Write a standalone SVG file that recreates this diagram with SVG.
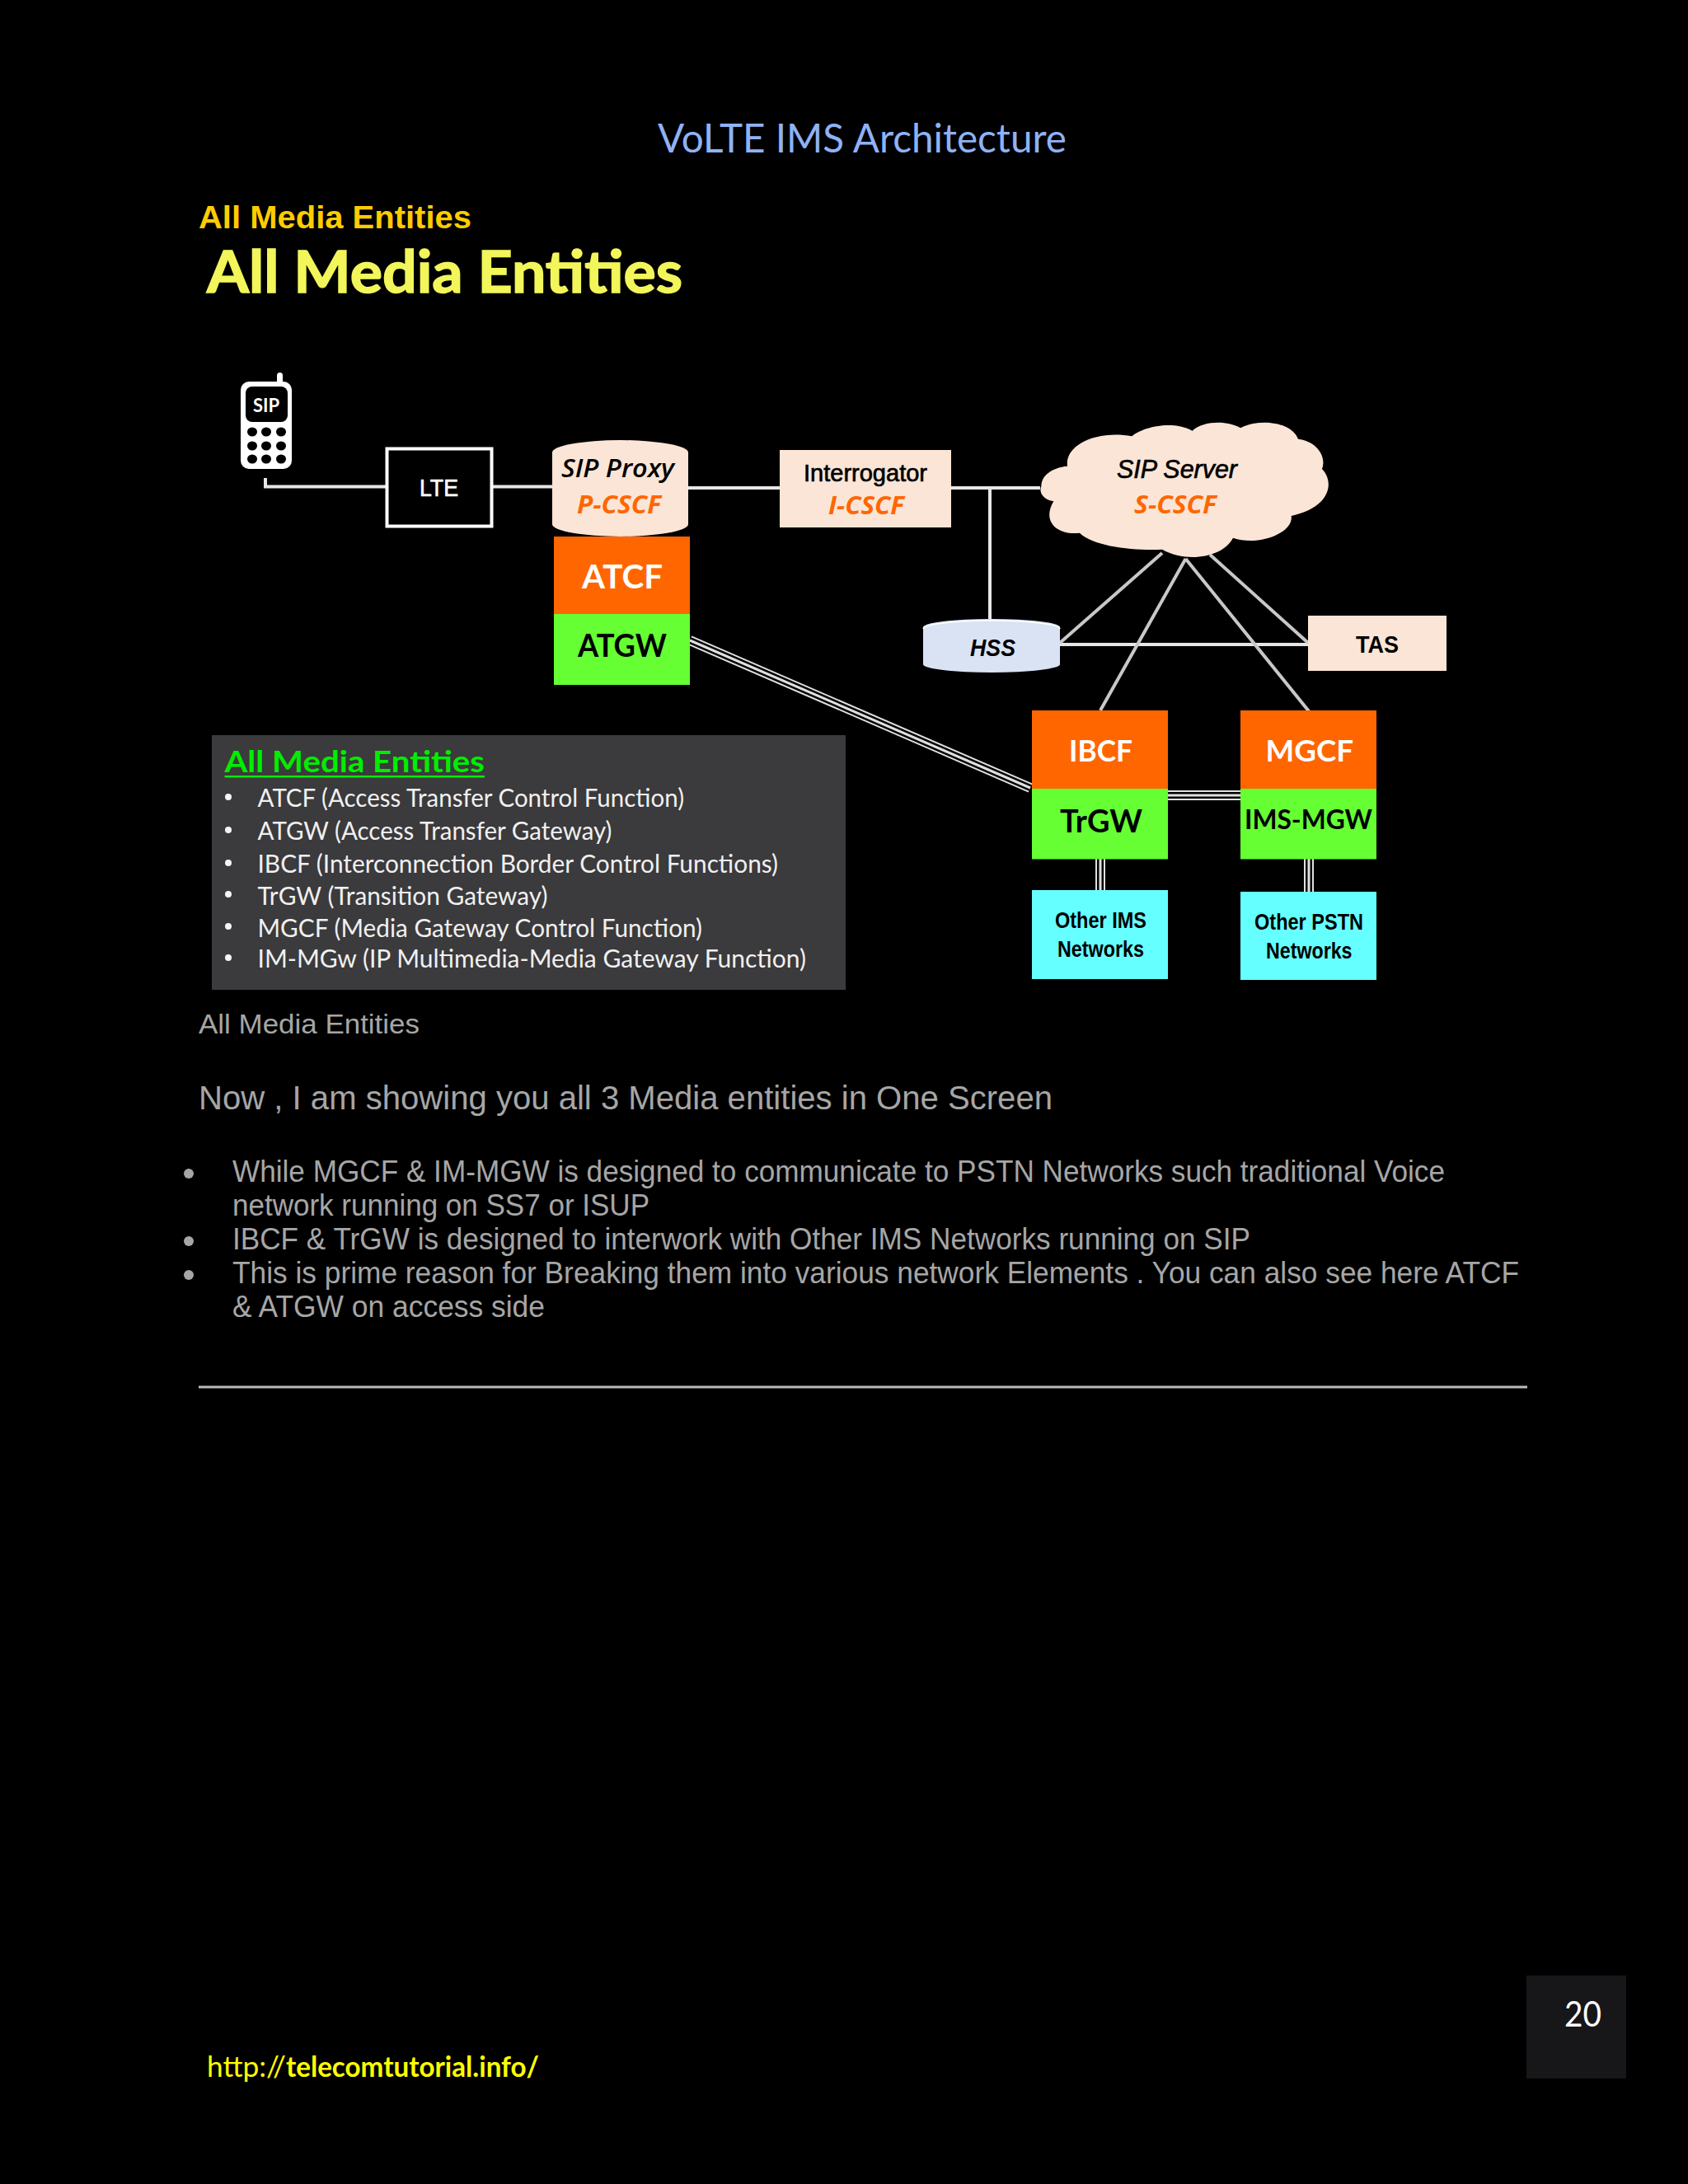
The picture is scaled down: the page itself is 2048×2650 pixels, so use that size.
<svg xmlns="http://www.w3.org/2000/svg" width="2048" height="2650" viewBox="0 0 2048 2650">
<style>
text{font-family:"Liberation Sans",Arial,sans-serif;white-space:pre}
.lato{font-family:Lato,"Open Sans",sans-serif}
.noto{font-family:"Open Sans","Noto Sans",sans-serif}
.b{font-weight:700}
.i{font-style:italic}
.thick{stroke:#000;stroke-width:.7px}
.thickw{stroke:#fff;stroke-width:.7px}
.body{font-size:36px;fill:#a6a6a6}
.lst{font-family:Lato,sans-serif;font-size:30px;fill:#f0f0f0}
.org{fill:#ff6600}.grn{fill:#66ff33}.cyn{fill:#66ffff}.pch{fill:#fbe5d6}
.w{fill:#fff}.k{fill:#000}
.conn{stroke:#e6e6e6;stroke-width:4;fill:none}
.diag{stroke:#c8c8c8;stroke-width:4;fill:none}
.t1{stroke:#e0e0e0;stroke-width:12;fill:none}
.t2{stroke:#000;stroke-width:8;fill:none}
.t3{stroke:#e0e0e0;stroke-width:3;fill:none}
</style>
<rect width="2048" height="2650" fill="#000"/>
<g id="heading">
<text x="798" y="185" class="lato" font-size="48" fill="#8fb2f5" textLength="496" lengthAdjust="spacingAndGlyphs">VoLTE IMS Architecture</text>
<text x="241" y="277" class="b" font-size="38" fill="#ffcc00" textLength="331" lengthAdjust="spacingAndGlyphs">All Media Entities</text>
<text x="251" y="355" class="lato b" font-size="70" fill="#f2f65a" stroke="#f2f65a" stroke-width="1.500" textLength="577" lengthAdjust="spacingAndGlyphs">All Media Entities</text>
</g>
<g id="connectors">
<path class="conn" d="M322,580V590.500H468M598,590.500H670M835,592H946M1154,592H1262M1201,592V751M1286,782H1587"/>
<path class="diag" d="M1410,671L1286,780M1468,673L1587,780M1438.500,678L1335,862M1438.500,678L1588,863"/>
<path class="t1" d="M837,777L1250,956M1417,965H1505M1335,1042V1080M1588,1042V1082"/>
<path class="t2" d="M837,777L1250,956M1417,965H1505M1335,1042V1080M1588,1042V1082"/>
<path class="t3" d="M837,777L1250,956M1417,965H1505M1335,1042V1080M1588,1042V1082"/>
</g>
<g id="phone">
<rect x="336" y="452" width="7" height="20" rx="3.500" class="w"/>
<rect x="292" y="463" width="62" height="106" rx="10" class="w"/>
<rect x="298" y="469" width="51" height="43" rx="8" class="k"/>
<text x="323" y="500" text-anchor="middle" class="lato b w" font-size="22">SIP</text>
<g class="k">
<ellipse cx="306" cy="524" rx="6" ry="5.500"/><ellipse cx="323" cy="524" rx="6" ry="5.500"/><ellipse cx="341" cy="524" rx="6" ry="5.500"/>
<ellipse cx="306" cy="541" rx="6" ry="5.500"/><ellipse cx="323" cy="541" rx="6" ry="5.500"/><ellipse cx="341" cy="541" rx="6" ry="5.500"/>
<ellipse cx="306" cy="557" rx="6" ry="5.500"/><ellipse cx="323" cy="557" rx="6" ry="5.500"/><ellipse cx="341" cy="557" rx="6" ry="5.500"/>
</g>
</g>
<g id="lte">
<rect x="469.500" y="544.500" width="127" height="94" fill="#000" stroke="#fff" stroke-width="4"/>
<text x="509" y="602" class="w thickw" font-size="30" textLength="47" lengthAdjust="spacingAndGlyphs">LTE</text>
</g>
<g id="p-cscf">
<path class="pch" d="M670,549A82.500,15 0 0 1 835,549V636A82.500,15 0 0 1 670,636Z"/>
<text x="681" y="579" class="noto i" font-weight="600" font-size="30" textLength="137" lengthAdjust="spacingAndGlyphs">SIP Proxy</text>
<text x="700" y="623" class="noto b i org" font-size="30" textLength="102" lengthAdjust="spacingAndGlyphs">P-CSCF</text>
</g>
<g id="atcf">
<rect x="672" y="651" width="165" height="94" class="org"/>
<text x="706" y="714" class="lato b w" font-size="41" textLength="98" lengthAdjust="spacingAndGlyphs">ATCF</text>
</g>
<g id="atgw">
<rect x="672" y="745" width="165" height="86" class="grn"/>
<text x="701" y="797" class="lato b" font-size="38" textLength="108" lengthAdjust="spacingAndGlyphs">ATGW</text>
</g>
<g id="i-cscf">
<rect x="946" y="546" width="208" height="94" class="pch"/>
<text x="975" y="584" class="thick" font-size="30" textLength="150" lengthAdjust="spacingAndGlyphs">Interrogator</text>
<text x="1005" y="624" class="noto b i org" font-size="30" textLength="92" lengthAdjust="spacingAndGlyphs">I-CSCF</text>
</g>
<g id="s-cscf">
<path class="pch" transform="translate(1250,500) scale(.33333)" d="M40,270C40,225 90,200 135,197C125,120 240,65 370,88C400,60 510,25 590,68C630,30 720,30 765,58C820,25 950,30 975,98C1040,105 1080,160 1062,207C1105,250 1100,345 950,378C960,440 830,490 738,458C700,530 570,550 480,500C380,505 230,490 180,440C100,450 40,400 85,325C50,320 30,295 40,270Z"/>
<text x="1355" y="580" class="thick" font-style="italic" font-size="32" textLength="146" lengthAdjust="spacingAndGlyphs">SIP Server</text>
<text x="1376" y="623" class="noto b i org" font-size="30" textLength="100" lengthAdjust="spacingAndGlyphs">S-CSCF</text>
</g>
<g id="hss">
<path fill="#dae3f3" d="M1120,761A83,10 0 0 1 1286,761V806A83,10 0 0 1 1120,806Z"/>
<path d="M1120,763A83,10 0 0 1 1286,763" fill="none" stroke="#fff" stroke-width="1.500"/>
<text x="1177" y="796" class="i b" font-size="30" textLength="55" lengthAdjust="spacingAndGlyphs">HSS</text>
</g>
<g id="tas">
<rect x="1587" y="747" width="168" height="67" class="pch"/>
<text x="1645" y="791.500" font-size="29" font-weight="700" textLength="52" lengthAdjust="spacingAndGlyphs">TAS</text>
</g>
<g id="ibcf">
<rect x="1252" y="862" width="165" height="95" class="org"/>
<text x="1297" y="923.500" class="lato b w" font-size="37" textLength="77" lengthAdjust="spacingAndGlyphs">IBCF</text>
</g>
<g id="trgw">
<rect x="1252" y="957" width="165" height="85.500" class="grn"/>
<text x="1286" y="1009.500" class="lato b" font-size="39" textLength="100" lengthAdjust="spacingAndGlyphs">TrGW</text>
</g>
<g id="mgcf">
<rect x="1505" y="862" width="165" height="95" class="org"/>
<text x="1535.500" y="923.500" class="lato b w" font-size="37" textLength="106.500" lengthAdjust="spacingAndGlyphs">MGCF</text>
</g>
<g id="ims-mgw">
<rect x="1505" y="957" width="165" height="85.500" class="grn"/>
<text x="1510" y="1006" class="lato b" font-size="33" textLength="155" lengthAdjust="spacingAndGlyphs">IMS-MGW</text>
</g>
<g id="other-ims">
<rect x="1252" y="1080" width="165" height="108" class="cyn"/>
<text x="1280" y="1125.500" font-size="28" font-weight="700" textLength="111" lengthAdjust="spacingAndGlyphs">Other IMS</text>
<text x="1283" y="1161" font-size="28" font-weight="700" textLength="105" lengthAdjust="spacingAndGlyphs">Networks</text>
</g>
<g id="other-pstn">
<rect x="1505" y="1082" width="165" height="107" class="cyn"/>
<text x="1522" y="1127.500" font-size="28" font-weight="700" textLength="132" lengthAdjust="spacingAndGlyphs">Other PSTN</text>
<text x="1536" y="1163" font-size="28" font-weight="700" textLength="104.500" lengthAdjust="spacingAndGlyphs">Networks</text>
</g>
<g id="legend">
<rect x="257" y="892" width="769" height="309" fill="#3b3a3c"/>
<text x="272.500" y="936.500" class="lato b" font-size="36" fill="#00ee00" textLength="315.500" lengthAdjust="spacingAndGlyphs">All Media Entities</text>
<rect x="272.500" y="941" width="315.500" height="2.500" fill="#00ee00"/>
<g fill="#f5f5f5">
<circle cx="277" cy="967" r="4"/><circle cx="277" cy="1007" r="4"/><circle cx="277" cy="1047" r="4"/><circle cx="277" cy="1085" r="4"/><circle cx="277" cy="1124" r="4"/><circle cx="277" cy="1162" r="4"/>
</g>
<text x="312.500" y="979" class="lst" textLength="517.500" lengthAdjust="spacingAndGlyphs">ATCF (Access Transfer Control Function)</text>
<text x="312.500" y="1019" class="lst" textLength="430" lengthAdjust="spacingAndGlyphs">ATGW (Access Transfer Gateway)</text>
<text x="312.500" y="1059" class="lst" textLength="631.500" lengthAdjust="spacingAndGlyphs">IBCF (Interconnection Border Control Functions)</text>
<text x="312.500" y="1097.500" class="lst" textLength="352" lengthAdjust="spacingAndGlyphs">TrGW (Transition Gateway)</text>
<text x="312.500" y="1136.500" class="lst" textLength="539.500" lengthAdjust="spacingAndGlyphs">MGCF (Media Gateway Control Function)</text>
<text x="312.500" y="1174" class="lst" textLength="665.500" lengthAdjust="spacingAndGlyphs">IM-MGw (IP Multimedia-Media Gateway Function)</text>
</g>
<g id="body-text">
<text x="241" y="1254" class="body" style="font-size:34px" textLength="268" lengthAdjust="spacingAndGlyphs">All Media Entities</text>
<text x="241" y="1346" class="body" style="font-size:40px" textLength="1036" lengthAdjust="spacingAndGlyphs">Now , I am showing you all 3 Media entities in One Screen</text>
<g fill="#a6a6a6"><circle cx="229" cy="1424" r="6"/><circle cx="229" cy="1506" r="6"/><circle cx="229" cy="1547" r="6"/></g>
<text x="282" y="1434" class="body" textLength="1471" lengthAdjust="spacingAndGlyphs">While MGCF &amp; IM-MGW is designed to communicate to PSTN Networks such traditional Voice</text>
<text x="282" y="1475" class="body" textLength="506" lengthAdjust="spacingAndGlyphs">network running on SS7 or ISUP</text>
<text x="282" y="1516" class="body" textLength="1235" lengthAdjust="spacingAndGlyphs">IBCF &amp; TrGW is designed to interwork with Other IMS Networks running on SIP</text>
<text x="282" y="1557" class="body" textLength="1561" lengthAdjust="spacingAndGlyphs">This is prime reason for Breaking them into various network Elements . You can also see here ATCF</text>
<text x="282" y="1598" class="body" textLength="379" lengthAdjust="spacingAndGlyphs">&amp; ATGW on access side</text>
<rect x="241" y="1681.500" width="1612" height="3" fill="#bbb"/>
</g>
<g id="footer">
<text x="251" y="2520" class="lato" font-size="35" fill="#ffff00" textLength="96" lengthAdjust="spacingAndGlyphs">http://</text>
<text x="347" y="2520" class="lato b" font-size="35" fill="#ffff00" textLength="307" lengthAdjust="spacingAndGlyphs">telecomtutorial.info/</text>
<rect x="1852" y="2397" width="121" height="125" fill="#171618"/>
<text x="1898" y="2459" class="lato w" font-size="42" textLength="45" lengthAdjust="spacingAndGlyphs">20</text>
</g>
</svg>
